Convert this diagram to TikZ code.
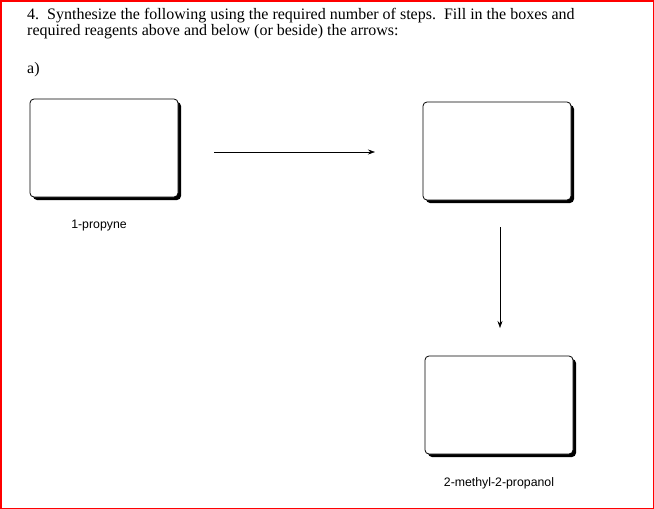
\documentclass[tikz,border=0pt]{standalone}
\usepackage{fontspec}
\setmainfont{Liberation Serif}
\newfontfamily\arial{Liberation Sans}
\usetikzlibrary{arrows.meta}
\begin{document}
\begin{tikzpicture}[x=1pt,y=-1pt,
  boxs/.style={draw=black,line width=0.8pt,rounded corners=4pt,fill=white},
  shad/.style={fill=black,rounded corners=4pt},
  lbl/.style={font=\arial\fontsize{12.3}{14}\selectfont,inner sep=0pt},
  arr/.style={-{Stealth[length=7pt,width=5pt]},line width=0.6pt}]
\useasboundingbox (0,0) rectangle (654,509);
\draw[red,line width=1.5pt] (0.75,0.75) rectangle (653.25,508.25);
\node[anchor=north west,inner sep=0pt,align=left,font=\fontsize{16}{16.5}\selectfont] (t) at (27,8)
{4.\ \ Synthesize the following using the required number of steps.\ \ Fill in the boxes and\\
required reagents above and below (or beside) the arrows:};
\node[anchor=north west,inner sep=0pt,font=\fontsize{16}{16.5}\selectfont] (a) at (27,62) {a)};
\foreach \n/\x/\y in {b1/30/99,b2/423/102,b3/425/356}{
  \fill[shad] (\x+3,\y+3) rectangle (\x+151,\y+101);
  \draw[boxs] (\x,\y) rectangle (\x+148,\y+98);
  \coordinate (\n) at (\x+74,\y+49);
}
\coordinate (h1) at (214,152); \coordinate (h2) at (375,152);
\coordinate (v1) at (500,227); \coordinate (v2) at (500,328);
\draw[arr] (h1) -- (h2);
\draw[arr] (v1) -- (v2);
\node[lbl] (l1) at (99,226) {1-propyne};
\node[lbl] (l2) at (499,483) {2-methyl-2-propanol};
\end{tikzpicture}
\end{document}
